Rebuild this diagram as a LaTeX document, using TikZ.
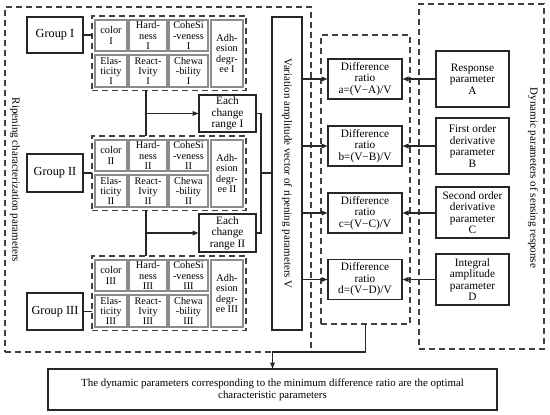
\documentclass[tikz,border=0pt]{standalone}
\usepackage{fontspec}
\setmainfont{Liberation Serif}
\usetikzlibrary{arrows.meta}
\begin{document}
\begin{tikzpicture}[x=1pt,y=-1pt,
 box/.style={draw=black!85, line width=1.1pt, inner sep=0pt, outer sep=0pt, align=center, font=\fontsize{11.3}{11.4}\selectfont},
 dbox/.style={draw=black!75, line width=1.15pt, dash pattern=on 6pt off 4pt, inner sep=0pt, outer sep=0pt},
 cell/.style={draw=black!45, line width=1.3pt, inner sep=0pt, outer sep=0pt, align=center, font=\fontsize{10.3}{10.2}\selectfont},
 conn/.style={draw=black!85, line width=1.1pt},
 arr/.style={conn, -{Latex[length=6.5pt,width=5.5pt]}},
 lbl/.style={rotate=-90, inner sep=0pt, font=\fontsize{11}{12}\selectfont}]
\useasboundingbox (0,0) rectangle (550,415);

% big dashed frames
\node[dbox, minimum width=306pt, minimum height=345pt] (bigL) at (158,179.5) {};
\node[dbox, minimum width=125pt, minimum height=345pt] (bigR) at (481.5,176.5) {};
\node[dbox, minimum width=89pt, minimum height=289pt] (mid) at (365.5,179.5) {};

\node[lbl] (lblL) at (15,180) {Ripening characterization parameters};
\node[lbl] (lblR) at (533,178) {Dynamic parameters of sensing response};

% V box
\node[box, minimum width=30pt, minimum height=313pt] (V) at (287,173.5) {};
\node[lbl] (Vt) at (V.center) {Variation amplitude vector of ripening parameters V};

% groups
\node[box, font=\fontsize{12.3}{12}\selectfont, minimum width=56pt, minimum height=36pt] (g1) at (55,35) {Group I};
\node[box, font=\fontsize{12.3}{12}\selectfont, minimum width=56pt, minimum height=38pt] (g2) at (55,173) {Group II};
\node[box, font=\fontsize{12.3}{12}\selectfont, minimum width=56pt, minimum height=37pt] (g3) at (55,311.5) {Group III};

\foreach \g/\t/\r in {1/16/I,2/136/II,3/256/III}{
  \node[dbox, minimum width=154pt, minimum height=74.5pt] (in\g) at (169,\t+37.2) {};
  \node[cell, minimum width=32pt, minimum height=31pt] (col\g) at (111,\t+19.5) {color\\\r};
  \node[cell, minimum width=38pt, minimum height=31pt] (har\g) at (148,\t+19.5) {Hard-\\ness\\\r};
  \node[cell, minimum width=39pt, minimum height=31pt] (coh\g) at (188.5,\t+19.5) {CoheSi\\-veness\\\r};
  \node[cell, minimum width=32pt, minimum height=67pt] (adh\g) at (227,\t+37.5) {Adh-\\esion\\degr-\\ee \r};
  \node[cell, minimum width=32pt, minimum height=32pt] (ela\g) at (111,\t+55) {Elas-\\ticity\\\r};
  \node[cell, minimum width=38pt, minimum height=32pt] (rea\g) at (148,\t+55) {React-\\Ivity\\\r};
  \node[cell, minimum width=39pt, minimum height=32pt] (che\g) at (188.5,\t+55) {Chewa\\-bility\\\r};
}

\draw[conn] (g1.east) -- (g1.east -| in1.west);
\draw[conn] (g2.east) -- (g2.east -| in2.west);
\draw[conn] (g3.east) -- (g3.east -| in3.west);

% change ranges
\node[box, minimum width=57pt, minimum height=37pt] (r1) at (227.5,113.5) {Each\\change\\range I};
\node[box, minimum width=57pt, minimum height=38pt] (r2) at (227.5,233) {Each\\change\\range II};

\coordinate (j1) at (146,113.5);
\coordinate (j2) at (146,233);
\draw[conn] (in1.south -| j1) -- (in2.north -| j1);
\draw[conn] (in2.south -| j2) -- (in3.north -| j2);
\draw[arr] (j1) -- (r1.west);
\draw[arr] (j2) -- (r2.west);

\coordinate (k) at (261,173);
\draw[conn] (r1.east) -| (k);
\draw[conn] (r2.east) -| (k);
\draw[conn] (k) -- (k -| V.west);

% difference ratios
\node[box, minimum width=74pt, minimum height=40pt] (da) at (365,79) {Difference\\ratio\\a=(V−A)/V};
\node[box, minimum width=74pt, minimum height=40pt] (db) at (365,146) {Difference\\ratio\\b=(V−B)/V};
\node[box, minimum width=74pt, minimum height=40pt] (dc) at (365,213) {Difference\\ratio\\c=(V−C)/V};
\node[box, minimum width=74pt, minimum height=40pt] (dd) at (365,279.5) {Difference\\ratio\\d=(V−D)/V};

% parameters
\node[box, minimum width=73pt, minimum height=56pt] (pa) at (472.5,79) {Response\\parameter\\A};
\node[box, minimum width=73pt, minimum height=56pt] (pb) at (472.5,146) {First order\\derivative\\parameter\\B};
\node[box, minimum width=73pt, minimum height=51pt] (pc) at (472.5,212.5) {Second order\\derivative\\parameter\\C};
\node[box, minimum width=73pt, minimum height=51pt] (pd) at (472.5,279.5) {Integral\\amplitude\\parameter\\D};

\foreach \d/\p in {da/pa,db/pb,dc/pc,dd/pd}{
  \draw[arr] (\d.west -| V.east) -- (\d.west);
  \draw[arr] (\d.east -| \p.west) -- (\d.east);
}

% bottom
\node[box, font=\fontsize{10.9}{12}\selectfont, minimum width=449pt, minimum height=41pt] (bot) at (272.5,389.5) {The dynamic parameters corresponding to the minimum difference ratio are the optimal\\characteristic parameters};
\draw[arr] (mid.south) -- (mid.south |- bigL.south) -| (bot.north);

\end{tikzpicture}
\end{document}
